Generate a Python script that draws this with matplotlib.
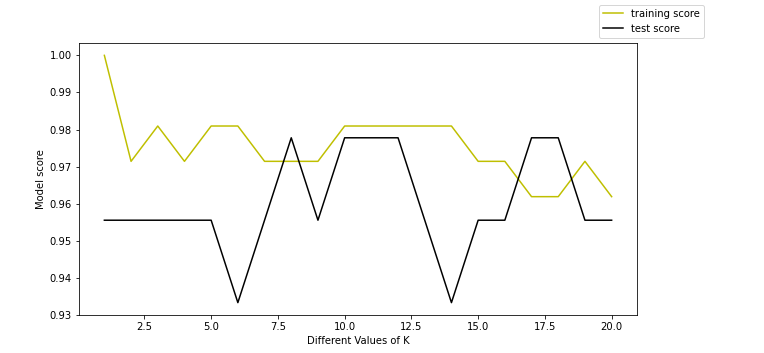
import matplotlib
matplotlib.use("Agg")
import matplotlib.pyplot as plt

k_values = list(range(1, 21))
training_score = [105/105, 102/105, 103/105, 102/105, 103/105, 103/105, 102/105, 102/105, 102/105, 103/105,
                  103/105, 103/105, 103/105, 103/105, 102/105, 102/105, 101/105, 101/105, 102/105, 101/105]
test_score = [43/45, 43/45, 43/45, 43/45, 43/45, 42/45, 43/45, 44/45, 43/45, 44/45,
              44/45, 44/45, 43/45, 42/45, 43/45, 43/45, 44/45, 44/45, 43/45, 43/45]

fig = plt.figure(figsize=(764/72, 353/72), dpi=72)
ax = fig.add_axes([79/764, 1-315/353, 558/764, 272/353])
ax.plot(k_values, training_score, color='y', label='training score')
ax.plot(k_values, test_score, color='k', label='test score')
ax.set_xlabel('Different Values of K')
ax.set_ylabel('Model score')
ax.legend(loc='upper left', bbox_to_anchor=((599-79)/558, 1.14), borderaxespad=0)
fig.savefig('out.png', dpi=72)
